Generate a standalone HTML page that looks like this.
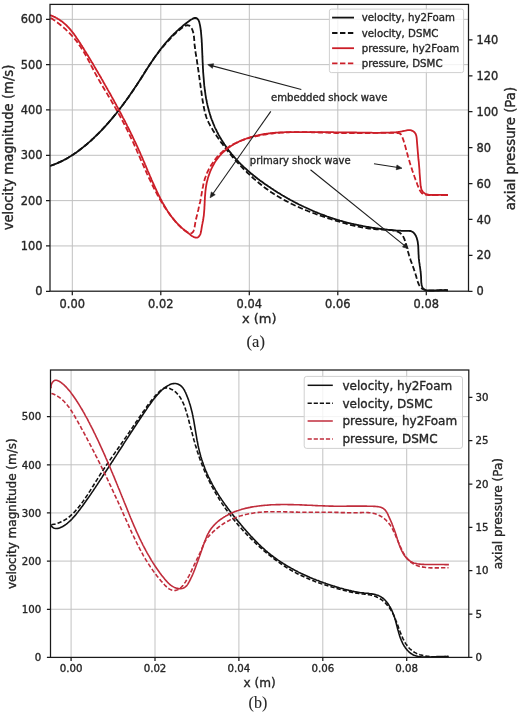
<!DOCTYPE html>
<html><head><meta charset="utf-8"><style>
html,body{margin:0;padding:0;background:#fff;}
body{width:520px;height:712px;overflow:hidden;}
svg{display:block;filter:blur(0.35px);}
text{fill:#262626;stroke:#262626;stroke-width:0.35px;}
</style></head><body>
<svg width="520" height="712" viewBox="0 0 520 712" style="font-family:'DejaVu Sans','Liberation Sans',sans-serif">
<rect width="520" height="712" fill="#fff"/>
<path d="M72.30,4.40V291.20M160.80,4.40V291.20M249.30,4.40V291.20M337.80,4.40V291.20M426.30,4.40V291.20M50.00,245.93H468.50M50.00,200.61H468.50M50.00,155.29H468.50M50.00,109.97H468.50M50.00,64.65H468.50M50.00,19.33H468.50" stroke="#c0c0c0" stroke-width="1.0" fill="none"/>
<path d="M50.1,165.8L51.3,165.5L52.4,165.1L53.5,164.7L54.6,164.3L55.7,163.8L56.8,163.4L57.9,162.9L59.0,162.4L60.1,162.0L61.2,161.4L62.3,160.9L63.3,160.4L64.4,159.8L65.4,159.3L66.5,158.7L67.5,158.1L68.5,157.5L69.6,156.8L70.6,156.2L71.6,155.6L72.6,154.9L73.6,154.3L74.6,153.6L75.6,152.9L76.6,152.2L77.6,151.5L78.5,150.8L79.5,150.1L80.5,149.3L81.4,148.6L82.4,147.8L83.3,147.1L84.3,146.3L85.2,145.5L86.1,144.8L87.0,144.0L88.0,143.2L88.9,142.4L89.8,141.6L90.7,140.8L91.6,140.0L92.4,139.2L93.3,138.4L94.2,137.5L95.1,136.7L95.9,135.9L96.8,135.0L97.7,134.2L98.5,133.3L99.4,132.5L100.2,131.6L101.0,130.8L101.9,129.9L102.7,129.0L103.5,128.2L104.3,127.3L105.1,126.4L106.0,125.5L106.8,124.6L107.6,123.7L108.4,122.8L109.1,121.9L109.9,121.0L110.7,120.1L111.5,119.2L112.3,118.3L113.0,117.3L113.8,116.4L114.6,115.5L115.3,114.5L116.1,113.6L116.8,112.7L117.6,111.7L118.3,110.8L119.0,109.8L119.8,108.9L120.5,107.9L121.2,107.0L122.0,106.0L122.7,105.0L123.4,104.1L124.1,103.1L124.8,102.1L125.5,101.2L126.2,100.2L126.9,99.2L127.6,98.2L128.3,97.2L129.0,96.2L129.7,95.3L130.4,94.3L131.1,93.3L131.8,92.3L132.4,91.3L133.1,90.3L133.8,89.3L134.5,88.3L135.1,87.3L135.8,86.3L136.5,85.3L137.1,84.3L137.8,83.3L138.5,82.3L139.1,81.3L139.8,80.2L140.4,79.2L141.1,78.2L141.7,77.2L142.4,76.2L143.0,75.2L143.7,74.2L144.3,73.2L145.0,72.1L145.6,71.1L146.3,70.1L146.9,69.1L147.6,68.1L148.2,67.1L148.9,66.1L149.6,65.1L150.2,64.1L150.9,63.1L151.5,62.1L152.2,61.1L152.9,60.1L153.6,59.1L154.2,58.1L154.9,57.1L155.6,56.1L156.3,55.1L157.0,54.2L157.7,53.2L158.4,52.2L159.1,51.2L159.8,50.3L160.5,49.3L161.3,48.4L162.0,47.4L162.8,46.5L163.5,45.6L164.3,44.6L165.0,43.7L165.8,42.8L166.6,41.9L167.4,41.0L168.2,40.1L169.0,39.2L169.8,38.3L170.6,37.4L171.4,36.5L172.2,35.7L173.1,34.8L173.9,33.9L174.8,33.1L175.7,32.3L176.5,31.4L177.4,30.6L178.3,29.8L179.2,29.0L180.1,28.2L181.1,27.4L182.0,26.6L182.9,25.8L183.9,25.0L184.9,24.2L185.8,23.5L186.8,22.7L187.8,22.0L188.8,21.3L189.8,20.5L190.8,19.8L191.9,19.2L192.9,18.6L193.9,18.2L194.8,18.0L195.7,18.0L196.6,18.2L197.4,18.8L198.1,19.6L198.7,20.6L199.2,21.8L199.5,23.1L199.8,24.4L200.1,25.7L200.3,27.0L200.5,28.2L200.7,29.5L200.8,30.7L201.0,31.9L201.1,33.2L201.2,34.4L201.3,35.5L201.4,36.7L201.5,37.9L201.6,39.1L201.7,40.3L201.7,41.4L201.8,42.6L201.9,43.8L201.9,45.0L202.0,46.2L202.0,47.3L202.1,48.5L202.1,49.7L202.2,50.9L202.2,52.1L202.3,53.3L202.3,54.5L202.4,55.7L202.4,56.9L202.5,58.1L202.5,59.3L202.6,60.5L202.6,61.7L202.7,62.9L202.8,64.1L202.8,65.3L202.9,66.5L202.9,67.8L203.0,69.0L203.1,70.2L203.1,71.4L203.2,72.6L203.3,73.8L203.4,75.0L203.5,76.2L203.6,77.4L203.7,78.6L203.8,79.8L203.9,81.1L204.0,82.3L204.1,83.5L204.2,84.7L204.3,85.9L204.5,87.1L204.6,88.3L204.8,89.5L204.9,90.7L205.1,91.9L205.3,93.1L205.4,94.3L205.6,95.4L205.8,96.6L206.0,97.8L206.2,99.0L206.5,100.2L206.7,101.4L206.9,102.5L207.2,103.7L207.4,104.9L207.7,106.1L208.0,107.2L208.3,108.4L208.6,109.5L208.9,110.7L209.2,111.8L209.6,113.0L209.9,114.1L210.3,115.3L210.6,116.4L211.0,117.6L211.4,118.7L211.8,119.8L212.3,120.9L212.7,122.0L213.1,123.2L213.6,124.3L214.1,125.4L214.5,126.5L215.0,127.6L215.5,128.6L216.1,129.7L216.6,130.8L217.1,131.9L217.7,133.0L218.2,134.0L218.8,135.1L219.4,136.1L220.0,137.2L220.6,138.2L221.2,139.2L221.8,140.3L222.5,141.3L223.1,142.3L223.8,143.3L224.4,144.3L225.1,145.3L225.8,146.3L226.5,147.3L227.2,148.3L227.9,149.2L228.6,150.2L229.4,151.2L230.1,152.1L230.9,153.1L231.6,154.0L232.4,154.9L233.2,155.8L233.9,156.7L234.7,157.6L235.5,158.5L236.3,159.4L237.1,160.3L238.0,161.2L238.8,162.1L239.6,162.9L240.5,163.8L241.3,164.6L242.2,165.4L243.1,166.3L243.9,167.1L244.8,167.9L245.7,168.7L246.6,169.5L247.5,170.3L248.4,171.1L249.3,171.9L250.2,172.7L251.1,173.5L252.1,174.2L253.0,175.0L253.9,175.8L254.9,176.5L255.8,177.2L256.8,178.0L257.7,178.7L258.7,179.4L259.6,180.2L260.6,180.9L261.6,181.6L262.6,182.3L263.5,183.0L264.5,183.7L265.5,184.4L266.5,185.1L267.5,185.8L268.5,186.5L269.5,187.1L270.5,187.8L271.5,188.5L272.5,189.1L273.5,189.8L274.5,190.4L275.5,191.1L276.6,191.7L277.6,192.4L278.6,193.0L279.6,193.6L280.7,194.3L281.7,194.9L282.7,195.5L283.8,196.1L284.8,196.7L285.8,197.3L286.9,197.9L287.9,198.5L289.0,199.1L290.0,199.7L291.1,200.3L292.2,200.8L293.2,201.4L294.3,202.0L295.3,202.5L296.4,203.1L297.5,203.6L298.5,204.2L299.6,204.7L300.7,205.2L301.8,205.8L302.9,206.3L303.9,206.8L305.0,207.3L306.1,207.8L307.2,208.3L308.3,208.8L309.4,209.3L310.5,209.8L311.6,210.3L312.7,210.8L313.8,211.2L314.9,211.7L316.0,212.2L317.1,212.6L318.2,213.1L319.4,213.5L320.5,214.0L321.6,214.4L322.7,214.8L323.8,215.2L325.0,215.7L326.1,216.1L327.2,216.5L328.4,216.9L329.5,217.3L330.6,217.7L331.8,218.0L332.9,218.4L334.1,218.8L335.2,219.2L336.4,219.5L337.5,219.9L338.7,220.2L339.8,220.6L341.0,220.9L342.1,221.2L343.3,221.5L344.5,221.9L345.6,222.2L346.8,222.5L348.0,222.8L349.1,223.1L350.3,223.4L351.5,223.7L352.7,223.9L353.8,224.2L355.0,224.5L356.2,224.7L357.4,225.0L358.6,225.2L359.7,225.5L360.9,225.7L362.1,225.9L363.3,226.2L364.5,226.4L365.7,226.6L366.9,226.8L368.0,227.0L369.2,227.2L370.4,227.4L371.6,227.6L372.8,227.8L374.0,228.0L375.2,228.2L376.3,228.4L377.5,228.5L378.7,228.7L379.9,228.9L381.1,229.0L382.3,229.2L383.5,229.3L384.6,229.5L385.8,229.6L387.0,229.7L388.2,229.9L389.4,230.0L390.6,230.1L391.8,230.2L393.0,230.3L394.2,230.4L395.4,230.5L396.6,230.6L397.8,230.6L399.0,230.7L400.2,230.7L401.5,230.8L402.7,230.8L404.0,230.8L405.2,230.8L406.5,230.8L407.7,230.8L409.0,230.8L410.2,231.0L411.2,231.2L412.2,231.7L413.1,232.2L413.9,233.0L414.6,233.8L415.2,234.7L415.8,235.7L416.2,236.7L416.7,237.8L417.0,238.9L417.3,240.0L417.6,241.2L417.8,242.4L417.9,243.6L418.1,244.8L418.2,246.0L418.3,247.3L418.3,248.5L418.4,249.8L418.4,251.1L418.5,252.3L418.5,253.6L418.6,254.8L418.7,256.0L418.7,257.2L418.8,258.4L419.0,259.6L419.1,260.8L419.2,261.9L419.4,263.1L419.6,264.2L419.7,265.4L419.9,266.5L420.1,267.7L420.2,268.8L420.4,270.0L420.5,271.2L420.7,272.4L420.8,273.6L420.9,274.8L421.0,276.1L421.1,277.4L421.1,278.7L421.2,280.0L421.2,281.3L421.3,282.6L421.5,283.8L421.7,285.0L422.0,286.1L422.3,287.1L422.8,288.0L423.5,288.8L424.2,289.4L425.2,289.8L426.2,290.1L427.4,290.3L428.6,290.4L429.8,290.5L431.0,290.5L432.3,290.5L433.5,290.5L434.7,290.5L436.0,290.4L437.2,290.4L438.4,290.3L439.6,290.3L440.8,290.2L442.0,290.2L443.2,290.2L444.4,290.2L445.6,290.2L446.8,290.3L448.0,290.4" stroke="#111" stroke-width="1.8" fill="none" stroke-linejoin="round"/>
<path d="M50.2,165.8L51.3,165.5L52.4,165.1L53.5,164.7L54.6,164.3L55.7,163.8L56.8,163.4L57.9,162.9L59.0,162.4L60.1,161.9L61.2,161.4L62.2,160.9L63.3,160.4L64.3,159.8L65.4,159.2L66.4,158.7L67.5,158.1L68.5,157.5L69.6,156.8L70.6,156.2L71.6,155.6L72.6,154.9L73.6,154.3L74.6,153.6L75.6,152.9L76.6,152.2L77.6,151.5L78.6,150.8L79.5,150.1L80.5,149.3L81.5,148.6L82.4,147.8L83.4,147.1L84.3,146.3L85.2,145.5L86.2,144.8L87.1,144.0L88.0,143.2L88.9,142.4L89.8,141.6L90.7,140.8L91.6,140.0L92.5,139.2L93.4,138.4L94.2,137.5L95.1,136.7L96.0,135.9L96.8,135.0L97.7,134.2L98.5,133.3L99.4,132.5L100.2,131.6L101.0,130.7L101.8,129.9L102.7,129.0L103.5,128.1L104.3,127.2L105.1,126.4L105.9,125.5L106.7,124.6L107.5,123.7L108.3,122.8L109.1,121.9L109.9,121.0L110.6,120.0L111.4,119.1L112.2,118.2L113.0,117.3L113.7,116.4L114.5,115.4L115.3,114.5L116.0,113.6L116.8,112.6L117.5,111.7L118.3,110.7L119.0,109.8L119.8,108.8L120.5,107.9L121.3,106.9L122.0,106.0L122.7,105.0L123.5,104.1L124.2,103.1L124.9,102.1L125.6,101.2L126.3,100.2L127.0,99.2L127.7,98.2L128.5,97.3L129.1,96.3L129.8,95.3L130.5,94.3L131.2,93.3L131.9,92.3L132.6,91.3L133.3,90.3L133.9,89.3L134.6,88.3L135.3,87.3L135.9,86.3L136.6,85.3L137.2,84.3L137.9,83.3L138.5,82.3L139.2,81.2L139.8,80.2L140.5,79.2L141.1,78.2L141.7,77.2L142.4,76.1L143.0,75.1L143.6,74.1L144.3,73.1L144.9,72.1L145.6,71.0L146.2,70.0L146.8,69.0L147.5,68.0L148.1,67.0L148.8,66.0L149.4,65.0L150.1,64.0L150.8,63.0L151.4,62.0L152.1,61.0L152.8,60.0L153.5,59.0L154.2,58.0L154.9,57.0L155.6,56.1L156.3,55.1L157.0,54.1L157.8,53.2L158.5,52.2L159.2,51.3L160.0,50.3L160.8,49.4L161.5,48.5L162.3,47.5L163.1,46.6L163.9,45.7L164.6,44.8L165.4,43.9L166.2,43.0L167.0,42.1L167.8,41.2L168.7,40.3L169.5,39.5L170.3,38.6L171.1,37.7L171.9,36.9L172.8,36.0L173.6,35.2L174.4,34.4L175.3,33.5L176.2,32.7L177.1,31.9L178.1,31.1L179.0,30.2L180.0,29.4L181.1,28.6L182.1,27.8L183.2,27.0L184.3,26.3L185.4,25.8L186.4,25.4L187.4,25.2L188.3,25.3L189.1,25.6L189.9,26.1L190.6,26.8L191.2,27.6L191.8,28.6L192.3,29.7L192.7,30.8L193.1,32.0L193.4,33.3L193.6,34.5L193.8,35.7L194.0,37.0L194.1,38.2L194.2,39.4L194.3,40.7L194.3,41.9L194.4,43.1L194.5,44.3L194.7,45.5L194.8,46.7L195.0,47.9L195.1,49.1L195.3,50.3L195.4,51.5L195.6,52.7L195.8,53.9L196.0,55.0L196.2,56.2L196.4,57.4L196.6,58.6L196.8,59.8L197.0,61.0L197.1,62.1L197.3,63.3L197.5,64.5L197.7,65.7L197.9,66.9L198.0,68.1L198.2,69.3L198.4,70.5L198.5,71.7L198.7,72.8L198.9,74.0L199.0,75.2L199.2,76.4L199.4,77.6L199.5,78.8L199.7,80.0L199.9,81.2L200.0,82.4L200.2,83.6L200.4,84.8L200.5,86.0L200.7,87.2L200.9,88.4L201.0,89.6L201.2,90.8L201.4,91.9L201.6,93.1L201.7,94.3L201.9,95.5L202.1,96.7L202.3,97.9L202.4,99.1L202.6,100.3L202.8,101.5L203.0,102.7L203.2,103.9L203.4,105.1L203.6,106.3L203.9,107.4L204.1,108.6L204.4,109.8L204.6,111.0L204.9,112.1L205.2,113.3L205.5,114.4L205.9,115.6L206.2,116.7L206.6,117.8L207.1,119.0L207.5,120.1L208.0,121.2L208.5,122.3L209.0,123.3L209.6,124.4L210.1,125.5L210.7,126.5L211.3,127.6L212.0,128.6L212.6,129.6L213.2,130.7L213.9,131.7L214.5,132.7L215.2,133.7L215.9,134.7L216.5,135.7L217.2,136.7L217.9,137.7L218.6,138.7L219.3,139.7L220.0,140.7L220.6,141.7L221.3,142.6L222.1,143.6L222.8,144.6L223.5,145.5L224.2,146.5L224.9,147.5L225.7,148.4L226.4,149.3L227.1,150.3L227.9,151.2L228.6,152.2L229.4,153.1L230.1,154.0L230.9,154.9L231.7,155.8L232.4,156.8L233.2,157.7L234.0,158.6L234.8,159.5L235.6,160.4L236.4,161.3L237.2,162.2L238.0,163.0L238.8,163.9L239.6,164.8L240.5,165.7L241.3,166.6L242.1,167.4L243.0,168.3L243.8,169.2L244.7,170.0L245.5,170.9L246.4,171.7L247.2,172.5L248.1,173.4L249.0,174.2L249.9,175.0L250.8,175.9L251.6,176.7L252.5,177.5L253.4,178.3L254.3,179.1L255.3,179.9L256.2,180.7L257.1,181.5L258.0,182.2L258.9,183.0L259.9,183.8L260.8,184.5L261.8,185.3L262.7,186.0L263.7,186.8L264.6,187.5L265.6,188.2L266.6,188.9L267.6,189.6L268.5,190.3L269.5,191.0L270.5,191.7L271.5,192.4L272.5,193.0L273.5,193.7L274.5,194.3L275.5,195.0L276.6,195.6L277.6,196.2L278.6,196.8L279.7,197.4L280.7,198.0L281.7,198.6L282.8,199.2L283.8,199.8L284.9,200.4L285.9,200.9L287.0,201.5L288.1,202.0L289.1,202.6L290.2,203.1L291.3,203.7L292.4,204.2L293.5,204.7L294.5,205.2L295.6,205.7L296.7,206.2L297.8,206.7L298.9,207.2L300.0,207.7L301.1,208.2L302.2,208.7L303.3,209.1L304.4,209.6L305.6,210.1L306.7,210.5L307.8,211.0L308.9,211.4L310.0,211.8L311.2,212.3L312.3,212.7L313.4,213.1L314.6,213.5L315.7,214.0L316.8,214.4L318.0,214.8L319.1,215.2L320.2,215.6L321.4,216.0L322.5,216.4L323.7,216.7L324.8,217.1L326.0,217.5L327.1,217.9L328.2,218.3L329.4,218.6L330.5,219.0L331.7,219.4L332.8,219.7L334.0,220.1L335.1,220.4L336.3,220.8L337.4,221.1L338.6,221.5L339.8,221.8L340.9,222.2L342.1,222.5L343.2,222.8L344.4,223.2L345.5,223.5L346.7,223.8L347.8,224.1L349.0,224.5L350.1,224.8L351.3,225.1L352.5,225.4L353.6,225.6L354.8,225.9L356.0,226.2L357.1,226.4L358.3,226.7L359.5,226.9L360.7,227.2L361.8,227.4L363.0,227.6L364.2,227.8L365.4,228.0L366.6,228.2L367.8,228.4L369.0,228.6L370.2,228.7L371.4,228.8L372.6,229.0L373.8,229.1L375.0,229.2L376.2,229.3L377.4,229.3L378.7,229.4L379.9,229.4L381.1,229.5L382.3,229.5L383.6,229.5L384.8,229.6L386.0,229.6L387.2,229.7L388.4,229.8L389.6,229.9L390.8,230.0L392.0,230.2L393.1,230.4L394.3,230.6L395.4,230.9L396.5,231.3L397.6,231.7L398.6,232.1L399.6,232.7L400.5,233.3L401.4,234.1L402.1,234.9L402.8,235.9L403.4,236.9L403.9,238.0L404.4,239.1L404.8,240.2L405.2,241.4L405.6,242.6L406.0,243.7L406.3,244.9L406.6,246.1L406.9,247.3L407.2,248.5L407.5,249.7L407.8,250.8L408.1,252.0L408.5,253.2L408.8,254.4L409.1,255.5L409.5,256.7L409.9,257.8L410.3,259.0L410.6,260.1L411.0,261.2L411.4,262.3L411.8,263.4L412.2,264.5L412.6,265.6L413.0,266.7L413.4,267.8L413.8,268.9L414.2,270.1L414.6,271.2L415.0,272.3L415.4,273.5L415.7,274.7L416.1,275.9L416.4,277.2L416.8,278.4L417.1,279.7L417.5,280.9L417.9,282.1L418.3,283.2L418.8,284.4L419.3,285.4L419.9,286.4L420.6,287.2L421.3,288.0L422.2,288.7L423.1,289.2L424.1,289.7L425.1,290.0L426.2,290.3L427.4,290.5L428.5,290.6L429.7,290.7L431.0,290.7L432.2,290.7L433.4,290.6L434.7,290.6L435.9,290.5L437.2,290.4L438.4,290.3L439.6,290.2L440.9,290.1L442.1,290.1L443.3,290.0L444.5,290.0L445.7,290.1L446.8,290.2L447.9,290.4" stroke="#111" stroke-width="1.8" fill="none" stroke-linejoin="round" stroke-dasharray="5.4,2.5"/>
<path d="M50.1,15.2L51.4,15.6L52.6,16.1L53.7,16.6L54.9,17.1L56.0,17.7L57.1,18.2L58.1,18.9L59.1,19.5L60.1,20.2L61.1,20.9L62.1,21.6L63.0,22.3L63.9,23.1L64.8,23.9L65.7,24.7L66.6,25.5L67.4,26.3L68.2,27.2L69.0,28.0L69.8,28.9L70.6,29.8L71.3,30.8L72.1,31.7L72.8,32.6L73.6,33.6L74.3,34.6L75.0,35.5L75.7,36.5L76.3,37.5L77.0,38.5L77.7,39.5L78.4,40.5L79.0,41.5L79.7,42.5L80.3,43.5L81.0,44.6L81.6,45.6L82.3,46.6L82.9,47.6L83.6,48.6L84.2,49.7L84.8,50.7L85.5,51.7L86.1,52.7L86.7,53.7L87.4,54.8L88.0,55.8L88.6,56.8L89.3,57.9L89.9,58.9L90.5,59.9L91.1,60.9L91.7,62.0L92.4,63.0L93.0,64.0L93.6,65.1L94.2,66.1L94.8,67.2L95.4,68.2L96.0,69.2L96.6,70.3L97.2,71.3L97.8,72.3L98.4,73.4L99.1,74.4L99.7,75.5L100.3,76.5L100.9,77.5L101.5,78.6L102.1,79.6L102.7,80.7L103.2,81.7L103.8,82.8L104.4,83.8L105.0,84.9L105.6,85.9L106.2,86.9L106.8,88.0L107.4,89.0L108.0,90.1L108.6,91.1L109.2,92.2L109.8,93.2L110.4,94.3L110.9,95.3L111.5,96.4L112.1,97.4L112.7,98.5L113.3,99.5L113.9,100.6L114.4,101.7L115.0,102.7L115.6,103.8L116.2,104.8L116.7,105.9L117.3,106.9L117.9,108.0L118.4,109.1L119.0,110.1L119.6,111.2L120.1,112.2L120.7,113.3L121.3,114.4L121.8,115.4L122.4,116.5L122.9,117.6L123.5,118.6L124.1,119.7L124.6,120.8L125.2,121.8L125.7,122.9L126.3,124.0L126.8,125.0L127.3,126.1L127.9,127.2L128.4,128.3L129.0,129.3L129.5,130.4L130.0,131.5L130.6,132.6L131.1,133.7L131.6,134.7L132.1,135.8L132.7,136.9L133.2,138.0L133.7,139.1L134.2,140.2L134.7,141.2L135.3,142.3L135.8,143.4L136.3,144.5L136.8,145.6L137.3,146.7L137.8,147.8L138.3,148.9L138.8,150.0L139.3,151.1L139.8,152.2L140.3,153.3L140.7,154.4L141.2,155.5L141.7,156.6L142.2,157.7L142.7,158.8L143.1,159.9L143.6,161.0L144.1,162.1L144.6,163.2L145.0,164.3L145.5,165.4L146.0,166.6L146.4,167.7L146.9,168.8L147.4,169.9L147.8,171.0L148.3,172.1L148.8,173.2L149.3,174.3L149.7,175.4L150.2,176.5L150.7,177.6L151.2,178.7L151.6,179.8L152.1,180.9L152.6,182.0L153.1,183.1L153.6,184.2L154.1,185.3L154.6,186.4L155.1,187.5L155.6,188.6L156.1,189.7L156.6,190.8L157.1,191.9L157.6,193.0L158.2,194.1L158.7,195.1L159.2,196.2L159.8,197.3L160.3,198.4L160.9,199.4L161.5,200.5L162.0,201.6L162.6,202.6L163.2,203.7L163.8,204.7L164.4,205.8L165.0,206.8L165.6,207.8L166.2,208.8L166.9,209.9L167.5,210.9L168.2,211.9L168.8,212.9L169.5,213.8L170.2,214.8L170.9,215.8L171.6,216.7L172.3,217.7L173.1,218.6L173.8,219.5L174.6,220.5L175.4,221.4L176.2,222.3L177.0,223.1L177.8,224.0L178.6,224.9L179.5,225.7L180.4,226.5L181.2,227.3L182.1,228.1L183.0,228.9L184.0,229.7L184.9,230.5L185.9,231.3L186.9,232.1L187.8,232.8L188.9,233.6L189.9,234.4L190.9,235.2L191.9,235.9L193.0,236.6L194.0,237.2L195.0,237.5L196.0,237.7L197.0,237.6L197.9,237.3L198.7,236.7L199.4,235.9L200.0,234.9L200.5,233.8L200.8,232.6L201.1,231.3L201.3,230.1L201.5,228.8L201.7,227.5L201.9,226.3L202.1,225.1L202.4,223.9L202.6,222.7L202.8,221.5L203.1,220.4L203.3,219.2L203.4,218.0L203.6,216.8L203.8,215.6L203.9,214.5L204.0,213.3L204.1,212.1L204.2,210.9L204.3,209.7L204.4,208.5L204.4,207.3L204.5,206.1L204.6,204.9L204.6,203.7L204.7,202.5L204.7,201.3L204.8,200.1L204.9,198.9L204.9,197.7L205.0,196.5L205.1,195.3L205.2,194.1L205.3,192.9L205.4,191.7L205.5,190.5L205.7,189.3L205.8,188.1L206.0,186.9L206.2,185.7L206.4,184.5L206.6,183.3L206.9,182.1L207.2,181.0L207.5,179.8L207.8,178.6L208.1,177.4L208.5,176.3L208.9,175.1L209.3,174.0L209.7,172.9L210.1,171.7L210.6,170.6L211.1,169.5L211.6,168.4L212.1,167.4L212.6,166.3L213.2,165.2L213.8,164.2L214.4,163.1L215.0,162.1L215.7,161.1L216.4,160.1L217.0,159.2L217.8,158.2L218.5,157.3L219.2,156.4L220.0,155.5L220.8,154.6L221.6,153.7L222.4,152.9L223.3,152.1L224.2,151.3L225.1,150.5L226.0,149.7L226.9,149.0L227.8,148.3L228.8,147.6L229.8,146.9L230.7,146.2L231.7,145.6L232.8,144.9L233.8,144.3L234.8,143.7L235.9,143.2L237.0,142.6L238.0,142.1L239.1,141.5L240.2,141.0L241.3,140.5L242.5,140.1L243.6,139.6L244.7,139.2L245.9,138.8L247.0,138.3L248.2,138.0L249.3,137.6L250.5,137.2L251.7,136.9L252.9,136.5L254.0,136.2L255.2,135.9L256.4,135.6L257.6,135.4L258.8,135.1L260.0,134.8L261.2,134.6L262.3,134.4L263.5,134.2L264.7,134.0L265.9,133.8L267.1,133.6L268.3,133.5L269.5,133.3L270.7,133.2L271.9,133.1L273.1,132.9L274.2,132.8L275.4,132.7L276.6,132.6L277.8,132.6L279.0,132.5L280.2,132.4L281.4,132.4L282.6,132.3L283.8,132.3L285.0,132.2L286.2,132.2L287.4,132.2L288.6,132.1L289.8,132.1L291.0,132.1L292.2,132.1L293.4,132.1L294.6,132.1L295.8,132.1L297.0,132.1L298.2,132.1L299.4,132.1L300.6,132.1L301.8,132.1L303.0,132.1L304.2,132.1L305.4,132.1L306.6,132.1L307.8,132.1L309.0,132.1L310.2,132.1L311.4,132.1L312.6,132.2L313.8,132.2L315.0,132.2L316.2,132.2L317.4,132.2L318.6,132.2L319.8,132.2L321.0,132.2L322.2,132.2L323.4,132.2L324.6,132.2L325.8,132.2L327.0,132.2L328.3,132.2L329.5,132.2L330.7,132.2L331.9,132.2L333.1,132.2L334.3,132.3L335.5,132.3L336.7,132.3L337.9,132.3L339.1,132.3L340.3,132.3L341.5,132.3L342.7,132.3L343.9,132.3L345.1,132.4L346.4,132.4L347.6,132.4L348.8,132.4L350.0,132.4L351.2,132.4L352.4,132.5L353.6,132.5L354.8,132.5L356.0,132.5L357.2,132.6L358.4,132.6L359.6,132.6L360.8,132.6L362.0,132.6L363.2,132.7L364.4,132.7L365.6,132.7L366.8,132.7L368.0,132.7L369.2,132.7L370.4,132.7L371.6,132.7L372.8,132.8L374.0,132.8L375.2,132.8L376.4,132.8L377.6,132.8L378.8,132.8L380.0,132.8L381.2,132.7L382.4,132.7L383.6,132.7L384.8,132.7L386.0,132.7L387.2,132.6L388.4,132.6L389.6,132.6L390.8,132.5L392.0,132.5L393.2,132.4L394.4,132.4L395.6,132.3L396.8,132.1L398.0,132.0L399.2,131.8L400.5,131.6L401.7,131.4L403.0,131.1L404.2,130.8L405.5,130.6L406.7,130.3L407.9,130.2L409.1,130.1L410.2,130.2L411.3,130.4L412.3,130.8L413.2,131.3L414.1,131.9L414.8,132.7L415.5,133.6L415.9,134.6L416.3,135.7L416.5,136.9L416.7,138.2L416.8,139.4L416.9,140.7L417.0,142.0L417.1,143.2L417.2,144.5L417.3,145.7L417.4,146.9L417.5,148.1L417.6,149.3L417.7,150.5L417.8,151.7L417.9,152.9L418.0,154.1L418.1,155.3L418.2,156.5L418.3,157.6L418.4,158.8L418.5,160.0L418.7,161.1L418.8,162.3L418.9,163.5L419.0,164.7L419.1,165.8L419.2,167.0L419.3,168.2L419.4,169.4L419.5,170.6L419.5,171.8L419.6,173.0L419.7,174.2L419.8,175.5L419.9,176.7L420.0,178.0L420.1,179.2L420.2,180.5L420.3,181.8L420.4,183.1L420.5,184.3L420.6,185.6L420.8,186.8L421.1,188.0L421.4,189.1L421.8,190.1L422.3,191.1L422.8,191.9L423.5,192.6L424.4,193.2L425.3,193.8L426.3,194.1L427.4,194.5L428.5,194.7L429.7,194.8L431.0,194.9L432.2,195.0L433.4,195.0L434.7,194.9L435.9,194.9L437.2,194.8L438.4,194.8L439.6,194.8L440.9,194.8L442.0,194.8L443.2,194.9L444.4,194.9L445.6,195.0L446.8,195.0L448.0,195.0" stroke="#cc1e28" stroke-width="1.8" fill="none" stroke-linejoin="round"/>
<path d="M50.6,17.9L51.6,18.5L52.6,19.1L53.5,19.8L54.5,20.4L55.5,21.1L56.4,21.8L57.4,22.5L58.3,23.3L59.3,24.0L60.2,24.7L61.2,25.5L62.1,26.3L63.0,27.0L63.9,27.8L64.8,28.6L65.7,29.4L66.6,30.3L67.5,31.1L68.3,32.0L69.2,32.8L70.0,33.7L70.9,34.6L71.7,35.5L72.5,36.4L73.3,37.3L74.1,38.2L74.9,39.1L75.6,40.0L76.4,41.0L77.1,41.9L77.8,42.9L78.5,43.9L79.2,44.9L79.9,45.9L80.6,46.8L81.2,47.9L81.9,48.9L82.5,49.9L83.1,50.9L83.8,51.9L84.4,53.0L85.0,54.0L85.6,55.0L86.1,56.1L86.7,57.1L87.3,58.2L87.9,59.2L88.4,60.3L89.0,61.4L89.6,62.4L90.1,63.5L90.7,64.5L91.2,65.6L91.8,66.7L92.3,67.7L92.9,68.8L93.4,69.9L94.0,70.9L94.6,72.0L95.1,73.1L95.7,74.1L96.3,75.2L96.9,76.2L97.5,77.3L98.0,78.3L98.6,79.4L99.2,80.4L99.8,81.5L100.4,82.5L101.0,83.5L101.6,84.6L102.3,85.6L102.9,86.7L103.5,87.7L104.1,88.7L104.7,89.8L105.3,90.8L105.9,91.8L106.6,92.9L107.2,93.9L107.8,94.9L108.4,96.0L109.0,97.0L109.6,98.0L110.3,99.1L110.9,100.1L111.5,101.1L112.1,102.2L112.7,103.2L113.3,104.3L113.9,105.3L114.5,106.3L115.1,107.4L115.7,108.4L116.3,109.5L116.9,110.5L117.5,111.5L118.1,112.6L118.6,113.6L119.2,114.7L119.8,115.7L120.4,116.8L120.9,117.8L121.5,118.9L122.1,120.0L122.6,121.0L123.2,122.1L123.7,123.1L124.3,124.2L124.8,125.3L125.4,126.3L125.9,127.4L126.4,128.5L127.0,129.5L127.5,130.6L128.0,131.7L128.5,132.8L129.1,133.8L129.6,134.9L130.1,136.0L130.6,137.1L131.1,138.2L131.7,139.3L132.2,140.3L132.7,141.4L133.2,142.5L133.7,143.6L134.2,144.7L134.7,145.8L135.2,146.9L135.7,148.0L136.2,149.1L136.7,150.2L137.1,151.3L137.6,152.4L138.1,153.5L138.6,154.6L139.1,155.7L139.6,156.8L140.1,158.0L140.5,159.1L141.0,160.2L141.5,161.3L142.0,162.4L142.5,163.5L143.0,164.6L143.5,165.7L144.0,166.8L144.4,167.9L144.9,169.0L145.4,170.1L145.9,171.2L146.4,172.3L146.9,173.5L147.4,174.6L147.9,175.7L148.4,176.7L148.9,177.8L149.4,178.9L150.0,180.0L150.5,181.1L151.0,182.2L151.5,183.3L152.0,184.4L152.6,185.5L153.1,186.5L153.6,187.6L154.2,188.7L154.7,189.8L155.3,190.8L155.8,191.9L156.4,192.9L157.0,194.0L157.5,195.1L158.1,196.1L158.7,197.1L159.3,198.2L159.9,199.2L160.5,200.3L161.1,201.3L161.7,202.3L162.3,203.3L162.9,204.3L163.6,205.4L164.2,206.4L164.9,207.4L165.5,208.3L166.2,209.3L166.9,210.3L167.5,211.3L168.2,212.3L168.9,213.2L169.6,214.2L170.3,215.2L171.0,216.1L171.8,217.0L172.5,218.0L173.3,218.9L174.0,219.8L174.8,220.7L175.5,221.7L176.3,222.6L177.1,223.5L177.9,224.3L178.8,225.2L179.6,226.1L180.5,226.9L181.4,227.8L182.4,228.6L183.4,229.4L184.4,230.2L185.5,230.9L186.6,231.7L187.7,232.3L188.8,232.9L189.9,233.2L190.9,233.3L191.7,233.1L192.5,232.5L193.1,231.8L193.6,230.8L194.0,229.7L194.3,228.5L194.6,227.2L194.8,225.9L195.0,224.6L195.2,223.4L195.4,222.2L195.7,221.1L195.9,219.9L196.2,218.8L196.4,217.6L196.7,216.5L197.0,215.3L197.2,214.1L197.5,213.0L197.8,211.8L198.1,210.6L198.4,209.5L198.6,208.3L198.9,207.1L199.2,205.9L199.5,204.7L199.7,203.5L200.0,202.4L200.3,201.2L200.5,200.0L200.8,198.8L201.0,197.6L201.2,196.4L201.4,195.2L201.6,194.1L201.8,192.9L202.0,191.7L202.2,190.5L202.4,189.4L202.6,188.2L202.9,187.0L203.1,185.8L203.3,184.7L203.6,183.5L203.9,182.4L204.2,181.2L204.5,180.1L204.8,178.9L205.2,177.8L205.6,176.7L206.0,175.5L206.5,174.4L206.9,173.3L207.4,172.2L207.9,171.1L208.5,170.0L209.0,168.9L209.6,167.9L210.2,166.8L210.8,165.7L211.4,164.7L212.1,163.7L212.8,162.7L213.5,161.7L214.2,160.7L214.9,159.7L215.7,158.8L216.4,157.9L217.2,156.9L218.0,156.0L218.8,155.2L219.7,154.3L220.5,153.4L221.4,152.6L222.3,151.8L223.2,151.0L224.1,150.3L225.1,149.5L226.0,148.8L227.0,148.1L228.0,147.4L229.0,146.8L230.0,146.1L231.0,145.5L232.0,144.9L233.1,144.3L234.1,143.8L235.2,143.2L236.3,142.7L237.3,142.2L238.4,141.7L239.5,141.3L240.6,140.8L241.8,140.4L242.9,140.0L244.0,139.6L245.2,139.2L246.3,138.8L247.5,138.4L248.6,138.1L249.8,137.8L250.9,137.4L252.1,137.1L253.3,136.8L254.4,136.6L255.6,136.3L256.8,136.0L258.0,135.8L259.1,135.5L260.3,135.3L261.5,135.1L262.7,134.9L263.9,134.7L265.0,134.5L266.2,134.3L267.4,134.1L268.6,133.9L269.8,133.8L271.0,133.6L272.2,133.5L273.4,133.4L274.6,133.2L275.7,133.1L276.9,133.0L278.1,132.9L279.3,132.8L280.5,132.7L281.7,132.6L282.9,132.6L284.1,132.5L285.3,132.4L286.5,132.4L287.7,132.3L288.9,132.3L290.1,132.2L291.3,132.2L292.5,132.2L293.7,132.2L294.9,132.1L296.1,132.1L297.3,132.1L298.5,132.1L299.7,132.1L301.0,132.1L302.2,132.1L303.4,132.1L304.6,132.1L305.8,132.1L307.0,132.2L308.2,132.2L309.4,132.2L310.6,132.2L311.8,132.3L313.0,132.3L314.2,132.3L315.4,132.4L316.6,132.4L317.9,132.4L319.1,132.5L320.3,132.5L321.5,132.5L322.7,132.6L323.9,132.6L325.1,132.6L326.3,132.7L327.5,132.7L328.7,132.8L329.9,132.8L331.1,132.8L332.3,132.9L333.5,132.9L334.7,132.9L335.9,133.0L337.1,133.0L338.3,133.0L339.5,133.0L340.7,133.1L341.9,133.1L343.1,133.1L344.3,133.1L345.5,133.1L346.7,133.1L347.9,133.1L349.1,133.1L350.3,133.1L351.5,133.1L352.7,133.1L353.9,133.1L355.1,133.1L356.3,133.1L357.5,133.1L358.7,133.1L359.9,133.1L361.1,133.1L362.3,133.1L363.5,133.1L364.7,133.0L365.9,133.0L367.1,133.0L368.3,133.0L369.5,133.0L370.7,133.0L371.9,133.0L373.1,132.9L374.3,132.9L375.5,132.9L376.7,132.9L378.0,132.9L379.2,132.9L380.4,132.9L381.6,132.9L382.8,132.9L384.0,132.9L385.2,132.8L386.5,132.8L387.7,132.8L388.9,132.9L390.1,132.9L391.3,132.9L392.5,132.9L393.7,132.9L394.9,133.0L396.1,133.0L397.3,133.1L398.4,133.2L399.5,133.4L400.4,133.9L401.1,134.7L401.6,135.7L402.1,136.8L402.6,137.9L403.0,139.0L403.4,140.1L403.8,141.3L404.2,142.4L404.5,143.6L404.9,144.8L405.2,145.9L405.5,147.1L405.8,148.3L406.1,149.5L406.4,150.7L406.8,151.8L407.1,153.0L407.4,154.2L407.7,155.3L408.0,156.5L408.4,157.6L408.7,158.8L409.0,159.9L409.4,161.1L409.7,162.2L410.1,163.4L410.4,164.5L410.8,165.6L411.1,166.8L411.5,167.9L411.9,169.0L412.2,170.2L412.6,171.3L413.0,172.4L413.4,173.6L413.8,174.7L414.2,175.8L414.6,177.0L415.0,178.1L415.4,179.3L415.8,180.4L416.2,181.5L416.7,182.7L417.1,183.8L417.5,185.0L418.0,186.2L418.4,187.3L418.9,188.5L419.4,189.6L420.0,190.6L420.6,191.6L421.3,192.5L422.0,193.3L422.9,193.9L423.9,194.3L425.0,194.6L426.2,194.8L427.4,194.9L428.7,195.0L430.0,195.0L431.2,195.0L432.4,195.0L433.6,195.1L434.8,195.1L436.0,195.1L437.2,195.1L438.4,195.1L439.6,195.1L440.8,195.1L441.9,195.1L443.1,195.1L444.3,195.1L445.5,195.2L446.8,195.2L448.0,195.2" stroke="#cc1e28" stroke-width="1.8" fill="none" stroke-linejoin="round" stroke-dasharray="5.4,2.5"/>
<rect x="50.00" y="4.40" width="418.50" height="286.80" fill="none" stroke="#1a1a1a" stroke-width="1.25"/>
<path d="M72.30,291.20v4.00M160.80,291.20v4.00M249.30,291.20v4.00M337.80,291.20v4.00M426.30,291.20v4.00M50.00,291.25h-4.00M50.00,245.93h-4.00M50.00,200.61h-4.00M50.00,155.29h-4.00M50.00,109.97h-4.00M50.00,64.65h-4.00M50.00,19.33h-4.00M468.50,291.25h4.00M468.50,255.34h4.00M468.50,219.42h4.00M468.50,183.51h4.00M468.50,147.59h4.00M468.50,111.68h4.00M468.50,75.77h4.00M468.50,39.85h4.00" stroke="#1a1a1a" stroke-width="1.25" fill="none"/>
<text x="72.30" y="307.90" text-anchor="middle" font-size="11.40">0.00</text>
<text x="160.80" y="307.90" text-anchor="middle" font-size="11.40">0.02</text>
<text x="249.30" y="307.90" text-anchor="middle" font-size="11.40">0.04</text>
<text x="337.80" y="307.90" text-anchor="middle" font-size="11.40">0.06</text>
<text x="426.30" y="307.90" text-anchor="middle" font-size="11.40">0.08</text>
<text x="42.40" y="295.41" text-anchor="end" font-size="11.40">0</text>
<text x="42.40" y="250.09" text-anchor="end" font-size="11.40">100</text>
<text x="42.40" y="204.77" text-anchor="end" font-size="11.40">200</text>
<text x="42.40" y="159.45" text-anchor="end" font-size="11.40">300</text>
<text x="42.40" y="114.13" text-anchor="end" font-size="11.40">400</text>
<text x="42.40" y="68.81" text-anchor="end" font-size="11.40">500</text>
<text x="42.40" y="23.49" text-anchor="end" font-size="11.40">600</text>
<text x="476.60" y="295.41" text-anchor="start" font-size="11.40">0</text>
<text x="476.60" y="259.49" text-anchor="start" font-size="11.40">20</text>
<text x="476.60" y="223.58" text-anchor="start" font-size="11.40">40</text>
<text x="476.60" y="187.66" text-anchor="start" font-size="11.40">60</text>
<text x="476.60" y="151.75" text-anchor="start" font-size="11.40">80</text>
<text x="476.60" y="115.84" text-anchor="start" font-size="11.40">100</text>
<text x="476.60" y="79.92" text-anchor="start" font-size="11.40">120</text>
<text x="476.60" y="44.01" text-anchor="start" font-size="11.40">140</text>
<text x="259.20" y="323.30" text-anchor="middle" font-size="13.00">x (m)</text>
<text transform="translate(13.30,147.50) rotate(-90)" text-anchor="middle" font-size="13.20">velocity magnitude (m/s)</text>
<text transform="translate(514.80,148.60) rotate(-90)" text-anchor="middle" font-size="13.30">axial pressure (Pa)</text>
<rect x="329.40" y="9.10" width="134.20" height="63.50" rx="2.0" fill="#fff" fill-opacity="0.8" stroke="#d0d0d0" stroke-width="1"/>
<path d="M332.10,17.60H354.00" stroke="#111" stroke-width="1.8"/>
<text x="361.80" y="21.20" font-size="10.20">velocity, hy2Foam</text>
<path d="M332.10,33.00H354.00" stroke="#111" stroke-width="1.8" stroke-dasharray="5.4,2.5"/>
<text x="361.80" y="36.60" font-size="10.20">velocity, DSMC</text>
<path d="M332.10,48.20H354.00" stroke="#cc1e28" stroke-width="1.8"/>
<text x="361.80" y="51.80" font-size="10.20">pressure, hy2Foam</text>
<path d="M332.10,63.40H354.00" stroke="#cc1e28" stroke-width="1.8" stroke-dasharray="5.4,2.5"/>
<text x="361.80" y="67.00" font-size="10.20">pressure, DSMC</text>
<path d="M301.30,89.50L211.57,65.63" stroke="#1e1e1e" stroke-width="1.1" fill="none"/><path d="M213.63,63.69L207.70,64.60L212.40,68.33Z" fill="#1e1e1e" stroke="#1e1e1e" stroke-width="0.6" stroke-linejoin="miter"/>
<path d="M270.80,111.40L212.40,194.53" stroke="#1e1e1e" stroke-width="1.1" fill="none"/><path d="M211.30,191.92L210.10,197.80L215.23,194.68Z" fill="#1e1e1e" stroke="#1e1e1e" stroke-width="0.6" stroke-linejoin="miter"/>
<path d="M310.50,169.80L405.19,246.09" stroke="#1e1e1e" stroke-width="1.1" fill="none"/><path d="M402.51,247.02L408.30,248.60L405.52,243.28Z" fill="#1e1e1e" stroke="#1e1e1e" stroke-width="0.6" stroke-linejoin="miter"/>
<path d="M374.00,163.80L398.05,167.58" stroke="#1e1e1e" stroke-width="1.1" fill="none"/><path d="M396.19,169.72L402.00,168.20L396.94,164.98Z" fill="#1e1e1e" stroke="#1e1e1e" stroke-width="0.6" stroke-linejoin="miter"/>
<text x="271.0" y="100.8" font-size="10.1">embedded shock wave</text>
<text x="249.8" y="164.0" font-size="10.0">primary shock wave</text>
<text x="246.60" y="346.60" font-size="16.50" style="font-family:'Liberation Serif',serif;stroke-width:0.1px">(a)</text>
<path d="M71.10,370.00V657.40M155.00,370.00V657.40M238.90,370.00V657.40M322.80,370.00V657.40M406.70,370.00V657.40M50.50,609.25H468.80M50.50,561.10H468.80M50.50,512.95H468.80M50.50,464.80H468.80M50.50,416.65H468.80" stroke="#c0c0c0" stroke-width="0.95" fill="none"/>
<path d="M50.7,525.3L51.6,526.4L52.5,527.3L53.5,527.9L54.5,528.3L55.5,528.5L56.6,528.5L57.7,528.4L58.8,528.2L60.0,527.8L61.1,527.3L62.2,526.8L63.2,526.2L64.3,525.5L65.3,524.8L66.3,524.1L67.3,523.3L68.2,522.5L69.2,521.7L70.1,520.9L70.9,520.1L71.8,519.2L72.6,518.3L73.4,517.4L74.2,516.5L75.0,515.6L75.8,514.7L76.5,513.8L77.3,512.8L78.0,511.9L78.7,510.9L79.5,510.0L80.2,509.0L80.9,508.1L81.6,507.1L82.3,506.2L83.0,505.2L83.7,504.2L84.4,503.2L85.1,502.3L85.8,501.3L86.5,500.3L87.2,499.3L87.9,498.3L88.6,497.4L89.3,496.4L90.0,495.4L90.7,494.4L91.3,493.4L92.0,492.4L92.7,491.4L93.4,490.4L94.0,489.4L94.7,488.4L95.4,487.4L96.0,486.4L96.7,485.4L97.4,484.4L98.0,483.4L98.7,482.4L99.3,481.4L100.0,480.4L100.7,479.4L101.3,478.4L102.0,477.4L102.6,476.3L103.3,475.3L104.0,474.3L104.6,473.3L105.3,472.3L105.9,471.3L106.6,470.3L107.2,469.3L107.9,468.3L108.6,467.2L109.2,466.2L109.9,465.2L110.5,464.2L111.2,463.2L111.8,462.2L112.5,461.2L113.2,460.2L113.8,459.1L114.5,458.1L115.1,457.1L115.8,456.1L116.4,455.1L117.1,454.1L117.7,453.1L118.4,452.0L119.0,451.0L119.7,450.0L120.4,449.0L121.0,448.0L121.7,447.0L122.3,446.0L123.0,445.0L123.6,443.9L124.3,442.9L124.9,441.9L125.6,440.9L126.2,439.9L126.9,438.9L127.6,437.9L128.2,436.9L128.9,435.9L129.5,434.9L130.2,433.8L130.8,432.8L131.5,431.8L132.2,430.8L132.8,429.8L133.5,428.8L134.1,427.8L134.8,426.8L135.5,425.8L136.1,424.8L136.8,423.8L137.4,422.8L138.1,421.8L138.8,420.8L139.4,419.8L140.1,418.8L140.8,417.8L141.4,416.8L142.1,415.8L142.8,414.8L143.4,413.8L144.1,412.8L144.8,411.8L145.4,410.8L146.1,409.9L146.8,408.9L147.4,407.9L148.1,406.9L148.8,405.9L149.5,404.9L150.2,404.0L150.9,403.0L151.6,402.0L152.3,401.1L153.0,400.1L153.7,399.1L154.5,398.2L155.3,397.3L156.0,396.3L156.8,395.4L157.6,394.5L158.5,393.6L159.3,392.7L160.2,391.8L161.0,390.9L161.9,390.0L162.9,389.2L163.8,388.4L164.8,387.7L165.8,386.9L166.8,386.3L167.9,385.6L168.9,385.1L170.0,384.5L171.2,384.1L172.3,383.8L173.4,383.6L174.5,383.5L175.6,383.5L176.7,383.7L177.7,384.0L178.7,384.5L179.7,385.0L180.6,385.6L181.5,386.4L182.3,387.2L183.0,388.1L183.7,389.1L184.4,390.2L184.9,391.3L185.5,392.4L186.0,393.6L186.5,394.7L186.9,395.9L187.4,397.0L187.8,398.2L188.3,399.3L188.7,400.5L189.1,401.6L189.4,402.8L189.8,403.9L190.2,405.1L190.5,406.2L190.8,407.4L191.1,408.5L191.4,409.7L191.7,410.9L192.0,412.0L192.3,413.2L192.5,414.4L192.8,415.5L193.0,416.7L193.2,417.9L193.5,419.1L193.7,420.3L193.9,421.4L194.1,422.6L194.3,423.8L194.5,425.0L194.7,426.2L194.9,427.4L195.1,428.6L195.3,429.8L195.5,431.0L195.7,432.1L195.9,433.3L196.1,434.5L196.3,435.7L196.5,436.9L196.7,438.1L196.9,439.3L197.1,440.5L197.4,441.7L197.6,442.8L197.8,444.0L198.0,445.2L198.3,446.4L198.5,447.6L198.8,448.7L199.1,449.9L199.4,451.1L199.6,452.3L200.0,453.4L200.3,454.6L200.6,455.7L200.9,456.9L201.3,458.0L201.6,459.2L202.0,460.3L202.4,461.5L202.8,462.6L203.2,463.7L203.6,464.9L204.0,466.0L204.4,467.1L204.8,468.2L205.3,469.4L205.7,470.5L206.2,471.6L206.7,472.7L207.1,473.8L207.6,474.9L208.1,476.0L208.6,477.1L209.2,478.1L209.7,479.2L210.2,480.3L210.8,481.4L211.3,482.4L211.9,483.5L212.4,484.6L213.0,485.6L213.6,486.7L214.2,487.7L214.8,488.7L215.4,489.8L216.0,490.8L216.6,491.8L217.3,492.9L217.9,493.9L218.5,494.9L219.2,495.9L219.8,496.9L220.5,497.9L221.2,498.9L221.8,499.9L222.5,500.9L223.2,501.9L223.9,502.9L224.6,503.9L225.3,504.9L226.0,505.8L226.7,506.8L227.4,507.8L228.1,508.7L228.9,509.7L229.6,510.7L230.3,511.6L231.1,512.6L231.8,513.5L232.6,514.5L233.3,515.4L234.1,516.4L234.8,517.3L235.6,518.3L236.3,519.2L237.1,520.1L237.9,521.1L238.7,522.0L239.4,522.9L240.2,523.8L241.0,524.8L241.8,525.7L242.5,526.6L243.3,527.5L244.1,528.5L244.9,529.4L245.7,530.3L246.5,531.2L247.3,532.1L248.1,533.0L248.9,533.9L249.7,534.8L250.5,535.7L251.4,536.6L252.2,537.4L253.0,538.3L253.8,539.2L254.7,540.0L255.5,540.9L256.4,541.8L257.2,542.6L258.1,543.5L258.9,544.3L259.8,545.1L260.7,546.0L261.5,546.8L262.4,547.6L263.3,548.4L264.2,549.2L265.1,550.0L266.0,550.8L266.9,551.5L267.8,552.3L268.8,553.1L269.7,553.8L270.6,554.6L271.6,555.3L272.5,556.0L273.5,556.8L274.4,557.5L275.4,558.2L276.4,558.9L277.4,559.6L278.4,560.3L279.3,560.9L280.3,561.6L281.3,562.3L282.4,562.9L283.4,563.6L284.4,564.2L285.4,564.8L286.4,565.5L287.5,566.1L288.5,566.7L289.6,567.3L290.6,567.9L291.7,568.5L292.7,569.0L293.8,569.6L294.8,570.2L295.9,570.8L297.0,571.3L298.1,571.9L299.1,572.4L300.2,572.9L301.3,573.5L302.4,574.0L303.5,574.5L304.6,575.0L305.7,575.5L306.8,576.0L307.9,576.5L309.0,577.0L310.1,577.5L311.2,577.9L312.4,578.4L313.5,578.9L314.6,579.3L315.7,579.8L316.8,580.2L318.0,580.6L319.1,581.1L320.2,581.5L321.4,581.9L322.5,582.3L323.6,582.7L324.8,583.1L325.9,583.5L327.1,583.9L328.2,584.3L329.4,584.7L330.5,585.1L331.6,585.4L332.8,585.8L333.9,586.1L335.1,586.5L336.2,586.9L337.4,587.2L338.5,587.5L339.7,587.9L340.8,588.2L342.0,588.5L343.1,588.8L344.3,589.2L345.4,589.5L346.6,589.8L347.7,590.1L348.9,590.4L350.0,590.6L351.2,590.9L352.3,591.2L353.5,591.4L354.7,591.7L355.8,591.9L357.0,592.1L358.2,592.3L359.4,592.5L360.6,592.7L361.8,592.8L363.1,592.9L364.3,593.1L365.5,593.2L366.8,593.3L368.0,593.4L369.3,593.6L370.5,593.7L371.7,593.9L372.9,594.1L374.1,594.3L375.3,594.6L376.4,594.9L377.5,595.2L378.6,595.6L379.6,596.1L380.7,596.7L381.6,597.3L382.6,598.0L383.5,598.7L384.4,599.5L385.2,600.3L386.0,601.2L386.8,602.1L387.5,603.1L388.2,604.0L388.9,605.1L389.5,606.1L390.2,607.1L390.7,608.2L391.3,609.3L391.8,610.4L392.3,611.5L392.7,612.6L393.2,613.7L393.6,614.8L394.0,616.0L394.4,617.1L394.8,618.2L395.1,619.4L395.5,620.5L395.8,621.7L396.1,622.9L396.4,624.0L396.7,625.2L397.0,626.4L397.3,627.6L397.6,628.7L397.9,629.9L398.3,631.1L398.6,632.3L398.9,633.4L399.3,634.6L399.6,635.8L400.0,636.9L400.4,638.1L400.9,639.2L401.3,640.3L401.8,641.4L402.3,642.5L402.8,643.6L403.4,644.7L404.0,645.7L404.7,646.7L405.3,647.7L406.1,648.7L406.8,649.6L407.6,650.5L408.4,651.3L409.2,652.1L410.1,652.8L411.0,653.5L412.0,654.1L413.0,654.7L414.0,655.2L415.1,655.6L416.2,655.9L417.3,656.2L418.4,656.5L419.6,656.7L420.7,656.8L421.9,657.0L423.2,657.0L424.4,657.1L425.6,657.1L426.9,657.1L428.2,657.1L429.4,657.0L430.7,657.0L432.0,656.9L433.2,656.8L434.5,656.8L435.7,656.7L437.0,656.6L438.2,656.6L439.5,656.5L440.7,656.5L441.9,656.5L443.0,656.5L444.2,656.5L445.3,656.6L446.4,656.7L447.5,656.9L448.5,657.1" stroke="#111" stroke-width="1.6" fill="none" stroke-linejoin="round"/>
<path d="M51.3,524.7L52.5,524.5L53.8,524.3L55.0,524.1L56.2,523.8L57.4,523.4L58.5,523.0L59.6,522.6L60.7,522.1L61.8,521.6L62.9,521.1L63.9,520.5L64.9,519.9L65.9,519.3L66.9,518.6L67.8,517.9L68.8,517.2L69.7,516.5L70.6,515.7L71.5,514.9L72.4,514.1L73.2,513.3L74.1,512.4L74.9,511.5L75.7,510.6L76.5,509.7L77.3,508.8L78.1,507.9L78.8,506.9L79.6,506.0L80.3,505.0L81.0,504.1L81.8,503.1L82.5,502.1L83.2,501.1L83.9,500.1L84.6,499.1L85.2,498.1L85.9,497.1L86.6,496.1L87.3,495.1L87.9,494.1L88.6,493.1L89.2,492.1L89.9,491.1L90.5,490.1L91.2,489.1L91.8,488.0L92.4,487.0L93.1,486.0L93.7,485.0L94.3,484.0L95.0,482.9L95.6,481.9L96.2,480.9L96.9,479.9L97.5,478.9L98.1,477.8L98.8,476.8L99.4,475.8L100.0,474.8L100.7,473.8L101.3,472.8L102.0,471.8L102.7,470.8L103.3,469.8L104.0,468.8L104.6,467.8L105.3,466.8L106.0,465.8L106.7,464.8L107.3,463.8L108.0,462.8L108.7,461.8L109.4,460.8L110.1,459.8L110.7,458.9L111.4,457.9L112.1,456.9L112.8,455.9L113.5,454.9L114.2,453.9L114.9,452.9L115.5,451.9L116.2,451.0L116.9,450.0L117.6,449.0L118.3,448.0L119.0,447.0L119.7,446.0L120.4,445.0L121.1,444.0L121.8,443.1L122.4,442.1L123.1,441.1L123.8,440.1L124.5,439.1L125.2,438.1L125.9,437.1L126.5,436.1L127.2,435.1L127.9,434.1L128.6,433.1L129.3,432.1L129.9,431.1L130.6,430.1L131.3,429.1L132.0,428.1L132.7,427.1L133.3,426.1L134.0,425.1L134.7,424.1L135.4,423.1L136.0,422.1L136.7,421.2L137.4,420.2L138.1,419.2L138.8,418.2L139.4,417.2L140.1,416.2L140.8,415.2L141.5,414.3L142.2,413.3L142.8,412.3L143.5,411.3L144.2,410.4L144.9,409.4L145.6,408.4L146.3,407.5L146.9,406.5L147.6,405.5L148.3,404.6L149.0,403.6L149.8,402.7L150.5,401.7L151.2,400.8L152.0,399.8L152.7,398.9L153.5,398.0L154.3,397.0L155.1,396.1L156.0,395.1L156.8,394.2L157.7,393.3L158.6,392.3L159.6,391.4L160.5,390.6L161.5,389.8L162.5,389.1L163.6,388.5L164.6,388.1L165.7,387.9L166.8,387.8L167.9,388.0L169.1,388.3L170.2,388.7L171.2,389.2L172.3,389.7L173.3,390.3L174.2,391.0L175.1,391.7L176.0,392.4L176.8,393.2L177.6,394.1L178.3,394.9L179.0,395.8L179.7,396.7L180.3,397.7L180.9,398.7L181.5,399.7L182.1,400.7L182.6,401.8L183.1,402.9L183.6,404.0L184.1,405.1L184.5,406.3L184.9,407.4L185.3,408.6L185.7,409.8L186.1,410.9L186.4,412.1L186.8,413.3L187.1,414.5L187.5,415.7L187.8,416.9L188.1,418.1L188.5,419.3L188.8,420.5L189.1,421.7L189.4,422.9L189.7,424.1L190.0,425.2L190.3,426.4L190.6,427.6L191.0,428.7L191.3,429.9L191.6,431.1L191.9,432.2L192.2,433.4L192.5,434.6L192.8,435.7L193.1,436.9L193.4,438.0L193.7,439.2L194.0,440.3L194.4,441.4L194.7,442.6L195.0,443.7L195.3,444.9L195.7,446.0L196.0,447.1L196.4,448.3L196.7,449.4L197.1,450.5L197.4,451.7L197.8,452.8L198.2,453.9L198.5,455.1L198.9,456.2L199.3,457.3L199.7,458.5L200.1,459.6L200.5,460.7L200.9,461.8L201.4,463.0L201.8,464.1L202.2,465.2L202.7,466.3L203.1,467.4L203.6,468.5L204.0,469.6L204.5,470.8L205.0,471.9L205.5,473.0L206.0,474.1L206.4,475.2L206.9,476.3L207.5,477.4L208.0,478.4L208.5,479.5L209.0,480.6L209.5,481.7L210.1,482.8L210.6,483.9L211.2,484.9L211.7,486.0L212.3,487.1L212.9,488.1L213.4,489.2L214.0,490.2L214.6,491.3L215.2,492.3L215.8,493.4L216.4,494.4L217.0,495.4L217.6,496.5L218.3,497.5L218.9,498.5L219.5,499.6L220.2,500.6L220.8,501.6L221.5,502.6L222.1,503.6L222.8,504.6L223.5,505.6L224.1,506.6L224.8,507.6L225.5,508.6L226.2,509.6L226.9,510.5L227.6,511.5L228.3,512.5L229.0,513.5L229.8,514.4L230.5,515.4L231.2,516.3L231.9,517.3L232.7,518.2L233.4,519.2L234.2,520.1L234.9,521.0L235.7,522.0L236.5,522.9L237.2,523.8L238.0,524.7L238.8,525.7L239.6,526.6L240.4,527.5L241.2,528.4L242.0,529.3L242.8,530.2L243.6,531.1L244.4,531.9L245.2,532.8L246.1,533.7L246.9,534.6L247.7,535.4L248.6,536.3L249.4,537.2L250.3,538.0L251.1,538.9L252.0,539.7L252.8,540.5L253.7,541.4L254.6,542.2L255.4,543.0L256.3,543.9L257.2,544.7L258.1,545.5L259.0,546.3L259.9,547.1L260.8,547.9L261.7,548.7L262.6,549.5L263.5,550.3L264.4,551.1L265.3,551.8L266.2,552.6L267.2,553.4L268.1,554.1L269.0,554.9L270.0,555.6L270.9,556.4L271.9,557.1L272.8,557.9L273.8,558.6L274.7,559.3L275.7,560.0L276.6,560.7L277.6,561.4L278.6,562.1L279.6,562.8L280.6,563.5L281.5,564.2L282.5,564.9L283.5,565.5L284.5,566.2L285.5,566.8L286.5,567.5L287.6,568.1L288.6,568.7L289.6,569.4L290.6,570.0L291.7,570.6L292.7,571.2L293.8,571.7L294.8,572.3L295.9,572.9L296.9,573.5L298.0,574.0L299.1,574.5L300.1,575.1L301.2,575.6L302.3,576.1L303.4,576.6L304.5,577.1L305.6,577.6L306.7,578.1L307.8,578.6L308.9,579.0L310.0,579.5L311.1,579.9L312.3,580.4L313.4,580.8L314.5,581.3L315.6,581.7L316.8,582.1L317.9,582.5L319.1,582.9L320.2,583.3L321.3,583.7L322.5,584.1L323.6,584.4L324.8,584.8L325.9,585.2L327.1,585.6L328.2,585.9L329.4,586.3L330.5,586.6L331.7,587.0L332.9,587.3L334.0,587.6L335.2,588.0L336.3,588.3L337.5,588.6L338.6,589.0L339.8,589.3L340.9,589.6L342.1,589.9L343.3,590.2L344.4,590.5L345.6,590.8L346.7,591.1L347.9,591.4L349.0,591.7L350.2,591.9L351.4,592.2L352.5,592.4L353.7,592.6L354.9,592.9L356.1,593.1L357.3,593.3L358.5,593.4L359.7,593.6L360.9,593.7L362.1,593.9L363.3,594.0L364.5,594.1L365.7,594.3L366.9,594.4L368.1,594.6L369.3,594.8L370.4,595.0L371.6,595.3L372.8,595.6L373.9,595.9L375.0,596.3L376.2,596.7L377.2,597.2L378.3,597.7L379.4,598.3L380.4,599.0L381.4,599.7L382.4,600.4L383.3,601.2L384.3,602.0L385.1,602.8L386.0,603.7L386.8,604.6L387.6,605.5L388.4,606.5L389.1,607.4L389.8,608.4L390.5,609.3L391.1,610.3L391.7,611.3L392.2,612.3L392.8,613.3L393.3,614.3L393.8,615.3L394.3,616.4L394.7,617.5L395.2,618.6L395.6,619.7L396.0,620.8L396.5,621.9L396.9,623.1L397.3,624.2L397.8,625.4L398.2,626.6L398.6,627.8L399.0,629.0L399.5,630.1L399.9,631.3L400.4,632.5L400.8,633.7L401.3,634.8L401.8,636.0L402.3,637.1L402.8,638.3L403.4,639.4L403.9,640.5L404.5,641.5L405.1,642.6L405.7,643.6L406.4,644.6L407.1,645.5L407.8,646.4L408.5,647.3L409.3,648.2L410.1,649.0L410.9,649.7L411.8,650.5L412.7,651.2L413.6,651.8L414.6,652.4L415.6,652.9L416.6,653.4L417.7,653.9L418.8,654.3L419.9,654.7L421.0,655.0L422.2,655.3L423.4,655.6L424.6,655.9L425.8,656.1L427.0,656.3L428.2,656.4L429.5,656.6L430.7,656.7L431.9,656.7L433.2,656.8L434.4,656.9L435.7,656.9L436.9,656.9L438.2,656.9L439.4,656.9L440.6,656.8L441.8,656.8L443.0,656.7L444.1,656.7L445.3,656.6L446.4,656.5L447.5,656.4L448.6,656.3" stroke="#111" stroke-width="1.6" fill="none" stroke-linejoin="round" stroke-dasharray="4.3,2.1"/>
<path d="M51.1,388.2L51.0,386.7L51.1,385.4L51.5,384.1L52.0,383.0L52.7,382.0L53.5,381.2L54.3,380.6L55.3,380.3L56.3,380.3L57.4,380.5L58.4,380.9L59.5,381.5L60.5,382.2L61.5,382.9L62.4,383.7L63.4,384.4L64.3,385.2L65.2,386.1L66.0,386.9L66.8,387.8L67.6,388.7L68.4,389.6L69.2,390.5L70.0,391.4L70.7,392.4L71.4,393.4L72.1,394.3L72.8,395.3L73.5,396.3L74.2,397.3L74.9,398.3L75.6,399.3L76.3,400.3L76.9,401.3L77.6,402.3L78.2,403.3L78.9,404.4L79.5,405.4L80.1,406.4L80.7,407.4L81.4,408.5L82.0,409.5L82.6,410.5L83.2,411.6L83.8,412.6L84.4,413.7L84.9,414.7L85.5,415.8L86.1,416.8L86.7,417.9L87.3,418.9L87.8,420.0L88.4,421.1L88.9,422.1L89.5,423.2L90.0,424.3L90.6,425.3L91.1,426.4L91.7,427.5L92.2,428.5L92.8,429.6L93.3,430.7L93.8,431.8L94.3,432.9L94.9,433.9L95.4,435.0L95.9,436.1L96.4,437.2L97.0,438.3L97.5,439.4L98.0,440.4L98.5,441.5L99.0,442.6L99.5,443.7L100.0,444.8L100.5,445.9L101.0,447.0L101.5,448.1L102.0,449.2L102.5,450.3L103.0,451.4L103.5,452.5L104.0,453.6L104.5,454.7L105.0,455.8L105.5,456.9L105.9,458.0L106.4,459.1L106.9,460.2L107.4,461.3L107.9,462.4L108.3,463.5L108.8,464.6L109.3,465.7L109.8,466.8L110.2,467.9L110.7,469.0L111.2,470.2L111.6,471.3L112.1,472.4L112.6,473.5L113.0,474.6L113.5,475.7L114.0,476.8L114.4,477.9L114.9,479.1L115.3,480.2L115.8,481.3L116.3,482.4L116.7,483.5L117.2,484.6L117.6,485.7L118.1,486.9L118.5,488.0L119.0,489.1L119.5,490.2L119.9,491.3L120.4,492.4L120.8,493.5L121.3,494.7L121.7,495.8L122.2,496.9L122.6,498.0L123.1,499.1L123.5,500.2L124.0,501.4L124.4,502.5L124.9,503.6L125.3,504.7L125.8,505.8L126.2,506.9L126.7,508.0L127.1,509.2L127.6,510.3L128.0,511.4L128.5,512.5L128.9,513.6L129.4,514.7L129.8,515.8L130.3,516.9L130.7,518.0L131.2,519.1L131.7,520.3L132.1,521.4L132.6,522.5L133.1,523.6L133.5,524.7L134.0,525.8L134.5,526.9L135.0,528.0L135.5,529.1L135.9,530.2L136.4,531.3L136.9,532.4L137.4,533.4L137.9,534.5L138.4,535.6L138.9,536.7L139.4,537.8L139.9,538.9L140.5,540.0L141.0,541.0L141.5,542.1L142.1,543.2L142.6,544.3L143.1,545.3L143.7,546.4L144.2,547.5L144.8,548.5L145.4,549.6L145.9,550.6L146.5,551.7L147.1,552.8L147.7,553.8L148.3,554.9L148.9,555.9L149.5,556.9L150.1,558.0L150.7,559.0L151.3,560.1L151.9,561.1L152.6,562.1L153.2,563.1L153.9,564.2L154.5,565.2L155.2,566.2L155.9,567.2L156.6,568.2L157.3,569.2L158.0,570.2L158.7,571.2L159.4,572.2L160.1,573.2L160.9,574.2L161.6,575.2L162.4,576.2L163.1,577.1L163.9,578.1L164.7,579.1L165.5,580.0L166.3,580.9L167.1,581.8L167.9,582.7L168.8,583.5L169.7,584.3L170.6,585.1L171.5,585.7L172.4,586.4L173.4,586.9L174.4,587.4L175.4,587.8L176.4,588.2L177.5,588.4L178.6,588.6L179.7,588.7L180.8,588.6L182.0,588.5L183.0,588.2L184.1,587.8L185.0,587.2L185.9,586.4L186.8,585.6L187.5,584.6L188.2,583.5L188.8,582.4L189.5,581.3L190.0,580.1L190.6,579.0L191.1,577.8L191.7,576.7L192.2,575.6L192.7,574.5L193.1,573.4L193.6,572.3L194.0,571.2L194.5,570.1L194.9,569.0L195.3,567.9L195.7,566.8L196.1,565.7L196.5,564.6L196.9,563.5L197.3,562.3L197.8,561.2L198.2,560.1L198.6,559.0L199.0,557.8L199.4,556.7L199.8,555.6L200.2,554.4L200.6,553.3L201.0,552.1L201.4,551.0L201.8,549.8L202.2,548.7L202.6,547.5L203.0,546.4L203.4,545.2L203.8,544.1L204.2,542.9L204.6,541.8L205.0,540.7L205.5,539.6L205.9,538.4L206.4,537.3L206.8,536.2L207.3,535.2L207.8,534.1L208.4,533.1L209.0,532.0L209.6,531.0L210.2,530.0L210.9,529.0L211.6,528.1L212.3,527.2L213.1,526.3L213.9,525.4L214.7,524.5L215.6,523.6L216.4,522.8L217.3,522.0L218.3,521.2L219.2,520.5L220.2,519.7L221.2,519.0L222.2,518.3L223.2,517.6L224.2,517.0L225.3,516.4L226.3,515.7L227.4,515.2L228.4,514.6L229.5,514.1L230.6,513.5L231.7,513.0L232.8,512.5L233.9,512.1L235.0,511.6L236.1,511.2L237.2,510.8L238.4,510.4L239.5,510.0L240.6,509.7L241.8,509.3L242.9,509.0L244.1,508.7L245.3,508.4L246.4,508.1L247.6,507.9L248.8,507.6L249.9,507.4L251.1,507.1L252.3,506.9L253.5,506.7L254.7,506.5L255.9,506.4L257.1,506.2L258.2,506.0L259.4,505.9L260.6,505.7L261.8,505.6L263.0,505.5L264.2,505.4L265.4,505.3L266.6,505.2L267.8,505.1L269.0,505.0L270.2,504.9L271.4,504.8L272.6,504.8L273.8,504.7L275.0,504.7L276.2,504.6L277.4,504.6L278.6,504.6L279.8,504.6L281.0,504.5L282.2,504.5L283.4,504.5L284.6,504.5L285.8,504.5L287.0,504.5L288.2,504.6L289.4,504.6L290.6,504.6L291.8,504.6L293.0,504.6L294.2,504.7L295.4,504.7L296.6,504.8L297.8,504.8L299.0,504.8L300.2,504.9L301.4,504.9L302.7,505.0L303.9,505.0L305.1,505.1L306.3,505.1L307.5,505.2L308.7,505.2L309.9,505.3L311.1,505.3L312.3,505.4L313.5,505.5L314.7,505.5L315.9,505.6L317.1,505.6L318.3,505.7L319.5,505.7L320.7,505.8L321.9,505.8L323.1,505.9L324.4,505.9L325.6,506.0L326.8,506.0L328.0,506.0L329.2,506.1L330.4,506.1L331.6,506.1L332.8,506.1L334.0,506.2L335.2,506.2L336.4,506.2L337.6,506.2L338.8,506.2L340.0,506.2L341.2,506.2L342.4,506.2L343.6,506.2L344.8,506.2L346.0,506.2L347.2,506.1L348.4,506.1L349.6,506.1L350.8,506.1L352.0,506.1L353.2,506.1L354.4,506.1L355.6,506.1L356.8,506.1L358.0,506.1L359.2,506.1L360.4,506.1L361.6,506.1L362.8,506.1L364.0,506.1L365.2,506.1L366.4,506.1L367.6,506.2L368.8,506.2L370.0,506.2L371.2,506.3L372.5,506.3L373.7,506.4L374.9,506.4L376.1,506.5L377.4,506.6L378.5,506.8L379.7,507.0L380.8,507.3L381.9,507.7L382.9,508.2L383.8,508.8L384.7,509.6L385.5,510.4L386.2,511.5L386.9,512.5L387.5,513.7L388.1,514.9L388.6,516.1L389.1,517.2L389.6,518.3L390.1,519.4L390.6,520.5L391.1,521.6L391.5,522.7L392.0,523.7L392.4,524.8L392.8,525.8L393.2,526.9L393.6,528.0L394.0,529.0L394.4,530.1L394.8,531.2L395.2,532.3L395.6,533.5L395.9,534.6L396.3,535.8L396.7,537.0L397.1,538.2L397.4,539.4L397.8,540.6L398.2,541.8L398.6,543.0L399.0,544.2L399.5,545.4L399.9,546.6L400.4,547.7L400.9,548.9L401.4,550.0L401.9,551.1L402.5,552.2L403.1,553.3L403.7,554.3L404.3,555.3L405.0,556.2L405.7,557.1L406.4,558.0L407.2,558.8L408.0,559.5L408.9,560.2L409.8,560.9L410.7,561.5L411.7,562.0L412.7,562.5L413.8,562.9L414.9,563.2L416.1,563.5L417.3,563.8L418.5,564.0L419.7,564.1L421.0,564.3L422.2,564.4L423.5,564.4L424.7,564.5L426.0,564.5L427.3,564.5L428.5,564.5L429.7,564.5L431.0,564.5L432.2,564.5L433.3,564.5L434.5,564.5L435.7,564.5L436.8,564.5L438.0,564.5L439.1,564.5L440.3,564.5L441.5,564.5L442.6,564.5L443.8,564.5L445.1,564.6L446.3,564.6L447.6,564.6L448.9,564.6" stroke="#c02d3c" stroke-width="1.6" fill="none" stroke-linejoin="round"/>
<path d="M51.4,393.4L52.6,393.8L53.8,394.3L54.9,394.8L56.0,395.4L57.0,395.9L58.1,396.6L59.0,397.2L60.0,397.9L60.9,398.6L61.8,399.4L62.7,400.2L63.6,401.0L64.4,401.8L65.2,402.7L66.0,403.5L66.8,404.4L67.5,405.4L68.2,406.3L69.0,407.3L69.7,408.2L70.3,409.2L71.0,410.2L71.7,411.2L72.3,412.3L72.9,413.3L73.6,414.3L74.2,415.4L74.8,416.4L75.4,417.5L76.0,418.6L76.6,419.6L77.2,420.7L77.8,421.7L78.4,422.8L79.0,423.9L79.6,424.9L80.2,426.0L80.8,427.0L81.3,428.1L81.9,429.2L82.5,430.2L83.1,431.3L83.7,432.4L84.2,433.4L84.8,434.5L85.4,435.5L85.9,436.6L86.5,437.7L87.1,438.7L87.6,439.8L88.2,440.8L88.8,441.9L89.3,443.0L89.9,444.0L90.4,445.1L91.0,446.2L91.5,447.2L92.1,448.3L92.6,449.4L93.2,450.4L93.7,451.5L94.3,452.6L94.8,453.6L95.4,454.7L95.9,455.8L96.5,456.9L97.0,457.9L97.5,459.0L98.1,460.1L98.6,461.2L99.2,462.2L99.7,463.3L100.2,464.4L100.8,465.5L101.3,466.5L101.8,467.6L102.3,468.7L102.9,469.8L103.4,470.9L103.9,471.9L104.4,473.0L105.0,474.1L105.5,475.2L106.0,476.3L106.5,477.4L107.1,478.4L107.6,479.5L108.1,480.6L108.6,481.7L109.1,482.8L109.6,483.9L110.2,485.0L110.7,486.1L111.2,487.2L111.7,488.2L112.2,489.3L112.7,490.4L113.2,491.5L113.7,492.6L114.2,493.7L114.7,494.8L115.2,495.9L115.7,497.0L116.3,498.1L116.8,499.2L117.3,500.3L117.8,501.4L118.3,502.5L118.8,503.6L119.3,504.7L119.8,505.8L120.3,506.9L120.8,508.0L121.3,509.1L121.7,510.2L122.2,511.3L122.7,512.4L123.2,513.5L123.7,514.6L124.2,515.7L124.7,516.8L125.2,517.9L125.7,519.0L126.2,520.1L126.7,521.2L127.2,522.3L127.7,523.4L128.2,524.5L128.7,525.6L129.1,526.7L129.6,527.8L130.1,528.9L130.6,530.0L131.1,531.1L131.6,532.2L132.1,533.3L132.7,534.4L133.2,535.5L133.7,536.5L134.2,537.6L134.7,538.7L135.2,539.8L135.7,540.9L136.3,542.0L136.8,543.0L137.3,544.1L137.9,545.2L138.4,546.3L139.0,547.3L139.5,548.4L140.1,549.5L140.6,550.5L141.2,551.6L141.8,552.6L142.4,553.7L142.9,554.7L143.5,555.8L144.1,556.8L144.7,557.8L145.3,558.8L145.9,559.9L146.6,560.9L147.2,561.9L147.8,562.9L148.5,563.9L149.1,564.9L149.8,565.9L150.4,566.9L151.1,567.9L151.8,568.9L152.5,569.9L153.2,570.9L153.9,571.9L154.6,572.9L155.4,573.8L156.1,574.8L156.8,575.8L157.6,576.7L158.4,577.7L159.1,578.7L159.9,579.6L160.7,580.6L161.6,581.5L162.4,582.4L163.2,583.4L164.1,584.3L164.9,585.2L165.8,586.1L166.7,587.0L167.6,587.7L168.5,588.5L169.5,589.1L170.5,589.6L171.5,590.0L172.5,590.3L173.6,590.5L174.7,590.5L175.7,590.4L176.7,590.1L177.7,589.7L178.7,589.2L179.6,588.6L180.5,587.8L181.4,587.0L182.3,586.1L183.1,585.2L183.8,584.2L184.6,583.1L185.3,582.1L186.0,581.0L186.7,579.9L187.3,578.8L187.9,577.8L188.5,576.7L189.1,575.6L189.6,574.6L190.2,573.5L190.7,572.4L191.2,571.3L191.7,570.3L192.2,569.2L192.7,568.1L193.2,567.1L193.7,566.0L194.2,564.9L194.7,563.8L195.2,562.8L195.7,561.7L196.3,560.6L196.8,559.5L197.3,558.4L197.9,557.3L198.4,556.3L198.9,555.2L199.4,554.1L200.0,552.9L200.5,551.8L201.0,550.7L201.4,549.6L201.9,548.5L202.4,547.4L202.8,546.2L203.3,545.1L203.8,544.0L204.3,542.9L204.8,541.9L205.4,540.8L206.0,539.8L206.7,538.9L207.3,537.9L208.1,537.0L208.9,536.1L209.6,535.3L210.5,534.4L211.3,533.6L212.2,532.8L213.0,531.9L213.9,531.1L214.8,530.3L215.7,529.5L216.7,528.7L217.6,528.0L218.6,527.2L219.5,526.5L220.5,525.7L221.5,525.0L222.5,524.3L223.5,523.7L224.5,523.0L225.6,522.4L226.6,521.8L227.7,521.2L228.7,520.7L229.8,520.1L230.9,519.6L232.0,519.1L233.1,518.6L234.2,518.2L235.3,517.7L236.4,517.3L237.5,516.9L238.6,516.5L239.8,516.1L240.9,515.8L242.1,515.4L243.2,515.1L244.4,514.8L245.6,514.5L246.7,514.3L247.9,514.0L249.1,513.8L250.3,513.6L251.5,513.4L252.6,513.2L253.8,513.0L255.0,512.8L256.2,512.7L257.4,512.5L258.6,512.4L259.8,512.3L261.0,512.2L262.2,512.1L263.4,512.0L264.6,511.9L265.8,511.9L267.0,511.8L268.2,511.8L269.4,511.8L270.6,511.7L271.8,511.7L273.0,511.7L274.2,511.7L275.4,511.7L276.6,511.7L277.8,511.7L279.0,511.8L280.2,511.8L281.5,511.8L282.7,511.8L283.9,511.8L285.1,511.9L286.3,511.9L287.5,511.9L288.7,512.0L289.9,512.0L291.1,512.0L292.3,512.1L293.5,512.1L294.7,512.1L295.9,512.1L297.1,512.1L298.3,512.2L299.5,512.2L300.7,512.2L302.0,512.2L303.2,512.2L304.4,512.2L305.6,512.2L306.8,512.2L308.0,512.2L309.2,512.2L310.4,512.2L311.6,512.2L312.8,512.2L314.0,512.2L315.2,512.2L316.4,512.2L317.6,512.2L318.8,512.2L320.0,512.2L321.2,512.2L322.4,512.2L323.6,512.2L324.8,512.2L326.0,512.2L327.2,512.2L328.4,512.2L329.6,512.3L330.8,512.3L332.0,512.3L333.2,512.3L334.4,512.3L335.6,512.4L336.8,512.4L338.1,512.4L339.3,512.5L340.5,512.5L341.7,512.6L342.9,512.6L344.1,512.6L345.3,512.7L346.5,512.7L347.7,512.7L348.9,512.8L350.1,512.8L351.3,512.8L352.5,512.8L353.7,512.8L354.9,512.8L356.1,512.8L357.3,512.7L358.6,512.7L359.8,512.6L361.0,512.6L362.2,512.5L363.4,512.5L364.6,512.5L365.8,512.5L367.0,512.5L368.2,512.6L369.4,512.7L370.6,512.8L371.8,513.0L373.0,513.2L374.1,513.5L375.3,513.8L376.4,514.2L377.6,514.7L378.7,515.2L379.8,515.7L380.8,516.3L381.9,516.9L382.9,517.6L383.8,518.3L384.8,519.1L385.7,519.8L386.5,520.7L387.3,521.5L388.1,522.4L388.8,523.3L389.5,524.2L390.2,525.1L390.8,526.1L391.4,527.1L392.0,528.1L392.6,529.1L393.1,530.2L393.6,531.3L394.2,532.4L394.7,533.5L395.2,534.6L395.7,535.7L396.1,536.9L396.6,538.0L397.1,539.2L397.6,540.4L398.1,541.5L398.6,542.7L399.1,543.8L399.6,545.0L400.1,546.2L400.6,547.3L401.1,548.4L401.7,549.5L402.2,550.7L402.8,551.7L403.4,552.8L404.0,553.8L404.6,554.9L405.2,555.8L405.9,556.8L406.6,557.7L407.3,558.6L408.1,559.5L408.8,560.3L409.7,561.1L410.5,561.8L411.4,562.5L412.3,563.2L413.2,563.8L414.2,564.3L415.2,564.8L416.3,565.3L417.4,565.7L418.5,566.1L419.7,566.4L420.8,566.7L422.0,566.9L423.2,567.1L424.5,567.3L425.7,567.5L426.9,567.6L428.2,567.7L429.5,567.8L430.7,567.9L432.0,567.9L433.3,567.9L434.5,567.9L435.8,567.9L437.0,567.9L438.3,567.9L439.5,567.9L440.7,567.8L441.9,567.8L443.1,567.8L444.2,567.8L445.3,567.7L446.4,567.7L447.5,567.7L448.5,567.7" stroke="#c02d3c" stroke-width="1.6" fill="none" stroke-linejoin="round" stroke-dasharray="4.3,2.1"/>
<rect x="50.50" y="370.00" width="418.30" height="287.40" fill="none" stroke="#1a1a1a" stroke-width="1.25"/>
<path d="M71.10,657.40v3.60M155.00,657.40v3.60M238.90,657.40v3.60M322.80,657.40v3.60M406.70,657.40v3.60M50.50,657.40h-3.60M50.50,609.25h-3.60M50.50,561.10h-3.60M50.50,512.95h-3.60M50.50,464.80h-3.60M50.50,416.65h-3.60M468.80,657.40h3.60M468.80,614.05h3.60M468.80,570.70h3.60M468.80,527.35h3.60M468.80,484.00h3.60M468.80,440.65h3.60M468.80,397.30h3.60" stroke="#1a1a1a" stroke-width="1.25" fill="none"/>
<text x="71.10" y="672.00" text-anchor="middle" font-size="10.20">0.00</text>
<text x="155.00" y="672.00" text-anchor="middle" font-size="10.20">0.02</text>
<text x="238.90" y="672.00" text-anchor="middle" font-size="10.20">0.04</text>
<text x="322.80" y="672.00" text-anchor="middle" font-size="10.20">0.06</text>
<text x="406.70" y="672.00" text-anchor="middle" font-size="10.20">0.08</text>
<text x="41.20" y="661.12" text-anchor="end" font-size="10.20">0</text>
<text x="41.20" y="612.97" text-anchor="end" font-size="10.20">100</text>
<text x="41.20" y="564.82" text-anchor="end" font-size="10.20">200</text>
<text x="41.20" y="516.67" text-anchor="end" font-size="10.20">300</text>
<text x="41.20" y="468.52" text-anchor="end" font-size="10.20">400</text>
<text x="41.20" y="420.37" text-anchor="end" font-size="10.20">500</text>
<text x="475.60" y="661.12" text-anchor="start" font-size="10.20">0</text>
<text x="475.60" y="617.77" text-anchor="start" font-size="10.20">5</text>
<text x="475.60" y="574.42" text-anchor="start" font-size="10.20">10</text>
<text x="475.60" y="531.07" text-anchor="start" font-size="10.20">15</text>
<text x="475.60" y="487.72" text-anchor="start" font-size="10.20">20</text>
<text x="475.60" y="444.37" text-anchor="start" font-size="10.20">25</text>
<text x="475.60" y="401.02" text-anchor="start" font-size="10.20">30</text>
<text x="259.60" y="686.60" text-anchor="middle" font-size="12.10">x (m)</text>
<text transform="translate(15.50,513.70) rotate(-90)" text-anchor="middle" font-size="12.00">velocity magnitude (m/s)</text>
<text transform="translate(502.30,513.70) rotate(-90)" text-anchor="middle" font-size="12.00">axial pressure (Pa)</text>
<rect x="304.20" y="376.40" width="158.30" height="72.00" rx="2.5" fill="#fff" fill-opacity="0.8" stroke="#d0d0d0" stroke-width="1"/>
<path d="M307.60,385.30H332.80" stroke="#111" stroke-width="1.5"/>
<text x="342.50" y="389.60" font-size="12.00">velocity, hy2Foam</text>
<path d="M307.60,403.20H332.80" stroke="#111" stroke-width="1.5" stroke-dasharray="4.2,1.9"/>
<text x="342.50" y="407.50" font-size="12.00">velocity, DSMC</text>
<path d="M307.60,421.00H332.80" stroke="#c02d3c" stroke-width="1.5"/>
<text x="342.50" y="425.30" font-size="12.00">pressure, hy2Foam</text>
<path d="M307.60,438.90H332.80" stroke="#c02d3c" stroke-width="1.5" stroke-dasharray="4.2,1.9"/>
<text x="342.50" y="443.20" font-size="12.00">pressure, DSMC</text>
<text x="248.60" y="708.30" font-size="16.00" style="font-family:'Liberation Serif',serif;stroke-width:0.1px">(b)</text>
</svg>
</body></html>
